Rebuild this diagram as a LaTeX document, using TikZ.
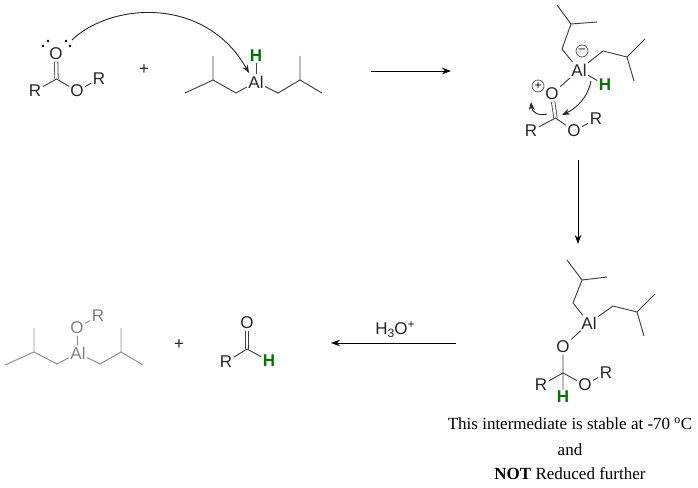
\documentclass[tikz,border=0pt]{standalone}
\usepackage{fontspec}
\usetikzlibrary{arrows.meta}
\setmainfont{Liberation Serif}
\setsansfont{Liberation Sans}
\tikzset{
  atom/.style={font=\sffamily\fontsize{17}{18}\selectfont, inner sep=1.4pt, text=black!85},
  hatom/.style={font=\sffamily\bfseries\fontsize{17}{18}\selectfont, inner sep=1.4pt, text=green!45!black},
  grayatom/.style={font=\sffamily\fontsize{17}{18}\selectfont, inner sep=1.4pt, text=black!50},
  bond/.style={line width=0.95pt, draw=black!75},
  graybond/.style={line width=0.95pt, draw=black!45},
  dbond/.style={bond, double, double distance=2.6pt, line width=0.8pt},
  curve/.style={line width=0.9pt, draw=black!85, -{Stealth[length=8pt,width=6pt]}},
  rxn/.style={line width=0.9pt, draw=black, -{Stealth[length=9pt,width=6.5pt]}},
  chg/.style={circle, draw=black!70, line width=0.7pt, minimum size=12pt, inner sep=0pt, font=\sffamily\fontsize{12}{12}\selectfont},
  note/.style={font=\fontsize{17}{18}\selectfont, inner sep=0pt}
}
\begin{document}
\begin{tikzpicture}[x=1pt,y=-1pt]
  \useasboundingbox (0,0) rectangle (698,487);
  % ester
  \node[atom] (oa) at (56,54) {O};
  \node[atom] (ra) at (35,91) {R};
  \node[atom] (ob) at (77,91) {O};
  \node[atom] (rb) at (99,79) {R};
  \coordinate (ca) at (56.5,79);
  \draw[dbond] (oa) -- (ca);
  \draw[bond] (ra) -- (ca) -- (ob) -- (rb);
  \foreach \px/\py in {43/46,48/41,66/41,70/46} \fill (\px,\py) circle (1.3);
  \node[atom] (plusa) at (144,70) {+};
  % hydride
  \node[atom] (ala) at (256,82) {Al};
  \node[hatom] (ha) at (256,56) {H};
  \draw[bond] (ala) -- (ha);
  \coordinate (a1) at (236,93); \coordinate (a2) at (213,80);
  \coordinate (a3) at (213,56); \coordinate (a4) at (185,93);
  \coordinate (a5) at (278,93); \coordinate (a6) at (300,80);
  \coordinate (a7) at (300,56); \coordinate (a8) at (322,93);
  \draw[bond] (ala) -- (a1) -- (a2) -- (a3);
  \draw[bond] (a2) -- (a4);
  \draw[bond] (ala) -- (a5) -- (a6) -- (a7);
  \draw[bond] (a6) -- (a8);
  \coordinate (lp) at (72,40);
  \coordinate (alin) at (249,73);
  \draw[curve] (lp) .. controls (110,3) and (205,-5) .. (alin);
  \coordinate (r1s) at (371,71); \coordinate (r1e) at (451,71);
  \draw[rxn] (r1s) -- (r1e);
  % complex
  \node[atom] (alb) at (579,70) {Al};
  \node[hatom] (hb) at (605,85) {H};
  \node[atom] (oc) at (552,94) {O};
  \node[atom] (rc) at (531,131) {R};
  \node[atom] (od) at (574,131) {O};
  \node[atom] (rd) at (596,119) {R};
  \node[chg] (minusb) at (582,51) {\raisebox{0.6pt}{--}};
  \node[chg] (plusb) at (538,86) {+};
  \coordinate (cb) at (555.5,118);
  \coordinate (b1) at (562,49); \coordinate (b2) at (571,24);
  \coordinate (b3) at (557,5); \coordinate (b4) at (597,22);
  \coordinate (b5) at (603,51); \coordinate (b6) at (627,57);
  \coordinate (b7) at (645,39); \coordinate (b8) at (634,81);
  \draw[bond] (alb) -- (b1) -- (b2) -- (b3);
  \draw[bond] (b2) -- (b4);
  \draw[bond] (alb) -- (b5) -- (b6) -- (b7);
  \draw[bond] (b6) -- (b8);
  \draw[bond] (alb) -- (hb);
  \draw[bond] (alb) -- (oc);
  \draw[dbond] (oc) -- (cb);
  \draw[bond] (rc) -- (cb) -- (od) -- (rd);
  \coordinate (hs) at (591,81); \coordinate (he) at (562,115);
  \draw[curve] (hs) .. controls (588,97) and (577,108) .. (he);
  \coordinate (ps) at (547,114); \coordinate (pe) at (531,102);
  \draw[curve] (ps) .. controls (539,116) and (532,113) .. (pe);
  \coordinate (r2s) at (578,160); \coordinate (r2e) at (578,244);
  \draw[rxn] (r2s) -- (r2e);
  % acetal
  \node[atom] (alc) at (589,323) {Al};
  \node[atom] (oe) at (563,347) {O};
  \node[atom] (re) at (541,385) {R};
  \node[atom] (of) at (585,385) {O};
  \node[atom] (rf) at (606,373) {R};
  \node[hatom] (hc) at (563,397) {H};
  \coordinate (cc) at (563,373);
  \coordinate (c1) at (573,303); \coordinate (c2) at (582,280);
  \coordinate (c3) at (567,260); \coordinate (c4) at (607,277);
  \coordinate (c5) at (613,306); \coordinate (c6) at (637,312);
  \coordinate (c7) at (655,294); \coordinate (c8) at (644,336);
  \draw[bond] (alc) -- (c1) -- (c2) -- (c3);
  \draw[bond] (c2) -- (c4);
  \draw[bond] (alc) -- (c5) -- (c6) -- (c7);
  \draw[bond] (c6) -- (c8);
  \draw[bond] (alc) -- (oe) -- (cc) -- (hc);
  \draw[bond] (re) -- (cc) -- (of) -- (rf);
  \node[note] (notea) at (570,424) {This intermediate is stable at -70 $^{\mathrm{o}}$C};
  \node[note] (noteb) at (570,450) {and};
  \node[note] (notec) at (570,474) {\textbf{NOT} Reduced further};
  \coordinate (r3s) at (456,343); \coordinate (r3e) at (331,343);
  \draw[rxn] (r3s) -- (r3e);
  \node[font=\sffamily\fontsize{17}{18}\selectfont, inner sep=0pt, text=black!85] (water) at (395,330) {H\raisebox{-3pt}{\fontsize{12}{12}\selectfont 3}O\raisebox{6pt}{\fontsize{12}{12}\selectfont +}};
  % products
  \node[grayatom] (ald) at (78,353) {Al};
  \node[grayatom] (og) at (77,328) {O};
  \node[grayatom] (rg) at (98,316) {R};
  \coordinate (d1) at (57,364); \coordinate (d2) at (34,352);
  \coordinate (d3) at (34,328); \coordinate (d4) at (5,365);
  \coordinate (d5) at (100,364); \coordinate (d6) at (121,352);
  \coordinate (d7) at (121,328); \coordinate (d8) at (143,365);
  \draw[graybond] (ald) -- (d1) -- (d2) -- (d3);
  \draw[graybond] (d2) -- (d4);
  \draw[graybond] (ald) -- (d5) -- (d6) -- (d7);
  \draw[graybond] (d6) -- (d8);
  \draw[graybond] (ald) -- (og) -- (rg);
  \node[atom] (plusb2) at (179,345) {+};
  \node[atom] (oh) at (247,323) {O};
  \node[atom] (rh) at (226,362) {R};
  \node[hatom] (hd) at (269,361) {H};
  \coordinate (cd) at (247,349);
  \draw[dbond] (oh) -- (cd);
  \draw[bond] (rh) -- (cd) -- (hd);
\end{tikzpicture}
\end{document}
